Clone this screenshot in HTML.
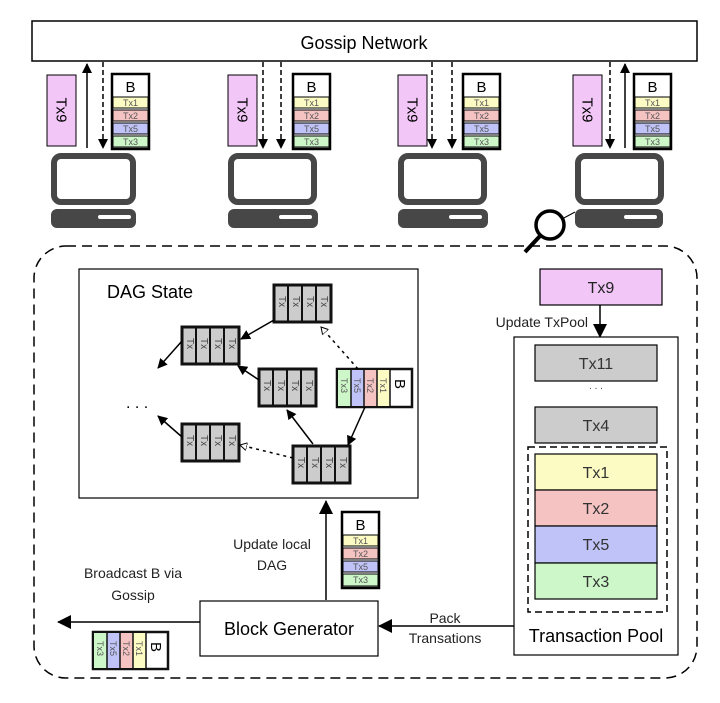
<!DOCTYPE html>
<html><head><meta charset="utf-8"><style>
html,body{margin:0;padding:0;background:#fff;}
svg{display:block;font-family:"Liberation Sans",sans-serif;}
</style></head><body>
<svg width="720" height="703" viewBox="0 0 720 703" xmlns="http://www.w3.org/2000/svg">
<defs>
<marker id="ah" markerWidth="10" markerHeight="10" refX="9" refY="5" orient="auto" markerUnits="userSpaceOnUse"><path d="M0,0 L10,5 L0,10 z" fill="#000"/></marker>
<marker id="ab" markerWidth="14" markerHeight="14" refX="13" refY="7" orient="auto" markerUnits="userSpaceOnUse"><path d="M0,0 L14,7 L0,14 z" fill="#000"/></marker>
<marker id="ao" markerWidth="8" markerHeight="8" refX="7" refY="4" orient="auto" markerUnits="userSpaceOnUse"><path d="M0,0 L7,4 L0,8 z" fill="#fff" stroke="#000" stroke-width="1"/></marker>
</defs>

<!-- Gossip network -->
<rect x="32" y="21" width="665" height="40" fill="#fff" stroke="#000" stroke-width="1.5"/>
<text x="364" y="49" font-size="18" text-anchor="middle">Gossip Network</text>

<!-- Node 1 (dx=0) -->
<g>
<rect x="47" y="75" width="29" height="71" fill="#f2c6f7" stroke="#000" stroke-width="1"/>
<text transform="translate(61.5,110) rotate(90)" font-size="15" text-anchor="middle" dy="5">Tx9</text>
<rect x="112" y="74" width="37" height="75" fill="#fff" stroke="#000" stroke-width="2.5"/>
<text x="130.5" y="92" font-size="15" text-anchor="middle">B</text>
<rect x="113" y="97" width="35" height="11" fill="#fdfbc4" stroke="#000" stroke-width="1"/><text x="130.5" y="106" font-size="9" text-anchor="middle" fill="#555">Tx1</text>
<rect x="113" y="110" width="35" height="11" fill="#f6c3c3" stroke="#000" stroke-width="1"/><text x="130.5" y="119" font-size="9" text-anchor="middle" fill="#555">Tx2</text>
<rect x="113" y="123" width="35" height="11" fill="#c0c3f7" stroke="#000" stroke-width="1"/><text x="130.5" y="132" font-size="9" text-anchor="middle" fill="#555">Tx5</text>
<rect x="113" y="136" width="35" height="11" fill="#cdf7c8" stroke="#000" stroke-width="1"/><text x="130.5" y="145" font-size="9" text-anchor="middle" fill="#555">Tx3</text>
<rect x="54" y="156" width="79" height="46" rx="7" fill="#fff" stroke="#474747" stroke-width="6"/>
<rect x="51" y="209" width="85" height="19" rx="6" fill="#474747"/>
<rect x="98" y="215" width="33" height="4" rx="2" fill="#fff"/>
<line x1="87" y1="148" x2="87" y2="64" stroke="#000" stroke-width="1.5" marker-end="url(#ah)"/>
<line x1="103" y1="62" x2="103" y2="148" stroke="#000" stroke-width="1.5" stroke-dasharray="5,3" marker-end="url(#ah)"/>
</g>

<!-- Node 2 -->
<g transform="translate(181,0)">
<rect x="47" y="75" width="29" height="71" fill="#f2c6f7" stroke="#000" stroke-width="1"/>
<text transform="translate(61.5,110) rotate(90)" font-size="15" text-anchor="middle" dy="5">Tx9</text>
<rect x="112" y="74" width="37" height="75" fill="#fff" stroke="#000" stroke-width="2.5"/>
<text x="130.5" y="92" font-size="15" text-anchor="middle">B</text>
<rect x="113" y="97" width="35" height="11" fill="#fdfbc4" stroke="#000" stroke-width="1"/><text x="130.5" y="106" font-size="9" text-anchor="middle" fill="#555">Tx1</text>
<rect x="113" y="110" width="35" height="11" fill="#f6c3c3" stroke="#000" stroke-width="1"/><text x="130.5" y="119" font-size="9" text-anchor="middle" fill="#555">Tx2</text>
<rect x="113" y="123" width="35" height="11" fill="#c0c3f7" stroke="#000" stroke-width="1"/><text x="130.5" y="132" font-size="9" text-anchor="middle" fill="#555">Tx5</text>
<rect x="113" y="136" width="35" height="11" fill="#cdf7c8" stroke="#000" stroke-width="1"/><text x="130.5" y="145" font-size="9" text-anchor="middle" fill="#555">Tx3</text>
<rect x="50" y="156" width="83" height="46" rx="7" fill="#fff" stroke="#474747" stroke-width="6"/>
<rect x="47" y="209" width="90" height="19" rx="6" fill="#474747"/>
<rect x="98" y="215" width="33" height="4" rx="2" fill="#fff"/>
<line x1="82" y1="62" x2="82" y2="148" stroke="#000" stroke-width="1.5" stroke-dasharray="5,3" marker-end="url(#ah)"/>
<line x1="100" y1="62" x2="100" y2="148" stroke="#000" stroke-width="1.5" stroke-dasharray="5,3" marker-end="url(#ah)"/>
</g>

<!-- Node 3 -->
<g transform="translate(351,0)">
<rect x="47" y="75" width="29" height="71" fill="#f2c6f7" stroke="#000" stroke-width="1"/>
<text transform="translate(61.5,110) rotate(90)" font-size="15" text-anchor="middle" dy="5">Tx9</text>
<rect x="112" y="74" width="37" height="75" fill="#fff" stroke="#000" stroke-width="2.5"/>
<text x="130.5" y="92" font-size="15" text-anchor="middle">B</text>
<rect x="113" y="97" width="35" height="11" fill="#fdfbc4" stroke="#000" stroke-width="1"/><text x="130.5" y="106" font-size="9" text-anchor="middle" fill="#555">Tx1</text>
<rect x="113" y="110" width="35" height="11" fill="#f6c3c3" stroke="#000" stroke-width="1"/><text x="130.5" y="119" font-size="9" text-anchor="middle" fill="#555">Tx2</text>
<rect x="113" y="123" width="35" height="11" fill="#c0c3f7" stroke="#000" stroke-width="1"/><text x="130.5" y="132" font-size="9" text-anchor="middle" fill="#555">Tx5</text>
<rect x="113" y="136" width="35" height="11" fill="#cdf7c8" stroke="#000" stroke-width="1"/><text x="130.5" y="145" font-size="9" text-anchor="middle" fill="#555">Tx3</text>
<rect x="50" y="156" width="83" height="46" rx="7" fill="#fff" stroke="#474747" stroke-width="6"/>
<rect x="47" y="209" width="90" height="19" rx="6" fill="#474747"/>
<rect x="98" y="215" width="33" height="4" rx="2" fill="#fff"/>
<line x1="81" y1="62" x2="81" y2="148" stroke="#000" stroke-width="1.5" stroke-dasharray="5,3" marker-end="url(#ah)"/>
<line x1="101" y1="62" x2="101" y2="148" stroke="#000" stroke-width="1.5" stroke-dasharray="5,3" marker-end="url(#ah)"/>
</g>

<!-- Node 4 -->
<g transform="translate(524,0)">
<rect x="49" y="75" width="29" height="71" fill="#f2c6f7" stroke="#000" stroke-width="1"/>
<text transform="translate(63.5,110) rotate(90)" font-size="15" text-anchor="middle" dy="5">Tx9</text>
<rect x="110" y="74" width="37" height="75" fill="#fff" stroke="#000" stroke-width="2.5"/>
<text x="128.5" y="92" font-size="15" text-anchor="middle">B</text>
<rect x="111" y="97" width="35" height="11" fill="#fdfbc4" stroke="#000" stroke-width="1"/><text x="128.5" y="106" font-size="9" text-anchor="middle" fill="#555">Tx1</text>
<rect x="111" y="110" width="35" height="11" fill="#f6c3c3" stroke="#000" stroke-width="1"/><text x="128.5" y="119" font-size="9" text-anchor="middle" fill="#555">Tx2</text>
<rect x="111" y="123" width="35" height="11" fill="#c0c3f7" stroke="#000" stroke-width="1"/><text x="128.5" y="132" font-size="9" text-anchor="middle" fill="#555">Tx5</text>
<rect x="111" y="136" width="35" height="11" fill="#cdf7c8" stroke="#000" stroke-width="1"/><text x="128.5" y="145" font-size="9" text-anchor="middle" fill="#555">Tx3</text>
<rect x="54" y="156" width="83" height="46" rx="7" fill="#fff" stroke="#474747" stroke-width="6"/>
<rect x="51" y="209" width="88" height="19" rx="6" fill="#474747"/>
<rect x="100" y="215" width="33" height="4" rx="2" fill="#fff"/>
<line x1="86" y1="62" x2="86" y2="148" stroke="#000" stroke-width="1.5" stroke-dasharray="5,3" marker-end="url(#ah)"/>
<line x1="101" y1="148" x2="101" y2="64" stroke="#000" stroke-width="1.5" marker-end="url(#ah)"/>
</g>

<!-- Magnifier -->
<line x1="562" y1="219" x2="575" y2="212" stroke="#000" stroke-width="1"/>
<circle cx="550" cy="225" r="14" fill="none" stroke="#000" stroke-width="3.5"/>
<line x1="540" y1="236" x2="525" y2="252" stroke="#000" stroke-width="4"/>

<!-- Dashed outer region -->
<rect x="34" y="246" width="663" height="432" rx="32" fill="none" stroke="#000" stroke-width="1.5" stroke-dasharray="10,6"/>

<!-- DAG State -->
<rect x="79" y="269" width="339" height="229" fill="#fff" stroke="#000" stroke-width="1.2"/>
<text x="107" y="298" font-size="18">DAG State</text>

<g font-size="10" fill="#444">
<!-- Block A -->
<g transform="translate(274,285)"><rect x="0" y="0" width="57" height="37" fill="#ccc" stroke="#111" stroke-width="3"/><line x1="14" y1="0" x2="14" y2="37" stroke="#111" stroke-width="2"/><line x1="28" y1="0" x2="28" y2="37" stroke="#111" stroke-width="2"/><line x1="42" y1="0" x2="42" y2="37" stroke="#111" stroke-width="2"/><text transform="translate(5,11) rotate(90)">Tx</text><text transform="translate(19,11) rotate(90)">Tx</text><text transform="translate(33,11) rotate(90)">Tx</text><text transform="translate(47,11) rotate(90)">Tx</text></g>
<!-- Block B -->
<g transform="translate(182,327)"><rect x="0" y="0" width="57" height="37" fill="#ccc" stroke="#111" stroke-width="3"/><line x1="14" y1="0" x2="14" y2="37" stroke="#111" stroke-width="2"/><line x1="28" y1="0" x2="28" y2="37" stroke="#111" stroke-width="2"/><line x1="42" y1="0" x2="42" y2="37" stroke="#111" stroke-width="2"/><text transform="translate(5,11) rotate(90)">Tx</text><text transform="translate(19,11) rotate(90)">Tx</text><text transform="translate(33,11) rotate(90)">Tx</text><text transform="translate(47,11) rotate(90)">Tx</text></g>
<!-- Block C -->
<g transform="translate(259,369)"><rect x="0" y="0" width="57" height="37" fill="#ccc" stroke="#111" stroke-width="3"/><line x1="14" y1="0" x2="14" y2="37" stroke="#111" stroke-width="2"/><line x1="28" y1="0" x2="28" y2="37" stroke="#111" stroke-width="2"/><line x1="42" y1="0" x2="42" y2="37" stroke="#111" stroke-width="2"/><text transform="translate(5,11) rotate(90)">Tx</text><text transform="translate(19,11) rotate(90)">Tx</text><text transform="translate(33,11) rotate(90)">Tx</text><text transform="translate(47,11) rotate(90)">Tx</text></g>
<!-- Block D -->
<g transform="translate(182,424)"><rect x="0" y="0" width="57" height="37" fill="#ccc" stroke="#111" stroke-width="3"/><line x1="14" y1="0" x2="14" y2="37" stroke="#111" stroke-width="2"/><line x1="28" y1="0" x2="28" y2="37" stroke="#111" stroke-width="2"/><line x1="42" y1="0" x2="42" y2="37" stroke="#111" stroke-width="2"/><text transform="translate(5,11) rotate(90)">Tx</text><text transform="translate(19,11) rotate(90)">Tx</text><text transform="translate(33,11) rotate(90)">Tx</text><text transform="translate(47,11) rotate(90)">Tx</text></g>
<!-- Block E -->
<g transform="translate(293,446)"><rect x="0" y="0" width="57" height="37" fill="#ccc" stroke="#111" stroke-width="3"/><line x1="14" y1="0" x2="14" y2="37" stroke="#111" stroke-width="2"/><line x1="28" y1="0" x2="28" y2="37" stroke="#111" stroke-width="2"/><line x1="42" y1="0" x2="42" y2="37" stroke="#111" stroke-width="2"/><text transform="translate(5,11) rotate(90)">Tx</text><text transform="translate(19,11) rotate(90)">Tx</text><text transform="translate(33,11) rotate(90)">Tx</text><text transform="translate(47,11) rotate(90)">Tx</text></g>
</g>

<!-- New block F (horizontal) -->
<g transform="translate(337,369)">
<rect x="0" y="0" width="75" height="38" fill="#fff" stroke="#111" stroke-width="2.5"/>
<rect x="1" y="1" width="13" height="36" fill="#cdf7c8"/>
<rect x="14" y="1" width="13" height="36" fill="#c0c3f7"/>
<rect x="27" y="1" width="13" height="36" fill="#f6c3c3"/>
<rect x="40" y="1" width="13" height="36" fill="#fdfbc4"/>
<line x1="14" y1="0" x2="14" y2="38" stroke="#111" stroke-width="1.5"/>
<line x1="27" y1="0" x2="27" y2="38" stroke="#111" stroke-width="1.5"/>
<line x1="40" y1="0" x2="40" y2="38" stroke="#111" stroke-width="1.5"/>
<line x1="53" y1="0" x2="53" y2="38" stroke="#111" stroke-width="1.5"/>
<g font-size="9" fill="#555"><text transform="translate(4,9) rotate(90)">Tx3</text><text transform="translate(17,9) rotate(90)">Tx5</text><text transform="translate(30,9) rotate(90)">Tx2</text><text transform="translate(43,9) rotate(90)">Tx1</text></g>
<text transform="translate(58,10) rotate(90)" font-size="15">B</text>
</g>

<!-- DAG arrows -->
<g stroke="#000" stroke-width="1.5" fill="none">
<line x1="274" y1="320" x2="241" y2="339" marker-end="url(#ah)"/>
<line x1="182" y1="341" x2="158" y2="368" marker-end="url(#ah)"/>
<line x1="182" y1="437" x2="158" y2="416" marker-end="url(#ah)"/>
<line x1="259" y1="380" x2="238" y2="366" marker-end="url(#ah)"/>
<line x1="313" y1="444" x2="287" y2="410" marker-end="url(#ah)"/>
<line x1="365" y1="407" x2="348" y2="445" marker-end="url(#ah)"/>
<line x1="358" y1="369" x2="321" y2="327" stroke-dasharray="3,4" marker-end="url(#ao)"/>
<line x1="293" y1="458" x2="240" y2="445" stroke-dasharray="3,4" marker-end="url(#ao)"/>
</g>
<text x="126" y="408" font-size="16">. . .</text>

<!-- Block generator -->
<rect x="200" y="601" width="178" height="55" fill="#fff" stroke="#000" stroke-width="1.2"/>
<text x="289" y="635" font-size="18" text-anchor="middle">Block Generator</text>
<line x1="326" y1="600" x2="326" y2="501" stroke="#000" stroke-width="1.5" marker-end="url(#ab)"/>
<text x="272" y="549" font-size="14" text-anchor="middle" fill="#222">Update local</text>
<text x="272" y="570" font-size="14" text-anchor="middle" fill="#222">DAG</text>
<line x1="200" y1="622" x2="58" y2="622" stroke="#000" stroke-width="1.5" marker-end="url(#ab)"/>
<text x="133" y="578" font-size="14" text-anchor="middle" fill="#222">Broadcast B via</text>
<text x="133" y="600" font-size="14" text-anchor="middle" fill="#222">Gossip</text>
<line x1="514" y1="626" x2="379" y2="626" stroke="#000" stroke-width="1.5" marker-end="url(#ab)"/>
<text x="445" y="623" font-size="14" text-anchor="middle" fill="#222">Pack</text>
<text x="445" y="643" font-size="14" text-anchor="middle" fill="#222">Transations</text>

<!-- vertical stack near DAG arrow -->
<rect x="342" y="512" width="37" height="76" fill="#fff" stroke="#000" stroke-width="2.5"/>
<text x="360.5" y="530" font-size="15" text-anchor="middle">B</text>
<rect x="343" y="535" width="35" height="11" fill="#fdfbc4" stroke="#000" stroke-width="1"/><text x="360.5" y="544" font-size="9" text-anchor="middle" fill="#555">Tx1</text>
<rect x="343" y="548" width="35" height="11" fill="#f6c3c3" stroke="#000" stroke-width="1"/><text x="360.5" y="557" font-size="9" text-anchor="middle" fill="#555">Tx2</text>
<rect x="343" y="561" width="35" height="11" fill="#c0c3f7" stroke="#000" stroke-width="1"/><text x="360.5" y="570" font-size="9" text-anchor="middle" fill="#555">Tx5</text>
<rect x="343" y="574" width="35" height="12" fill="#cdf7c8" stroke="#000" stroke-width="1"/><text x="360.5" y="583" font-size="9" text-anchor="middle" fill="#555">Tx3</text>

<!-- horizontal stack near broadcast -->
<g transform="translate(93,632)">
<rect x="0" y="0" width="75" height="37" fill="#fff" stroke="#111" stroke-width="2.5"/>
<rect x="1" y="1" width="13" height="35" fill="#cdf7c8"/>
<rect x="14" y="1" width="13" height="35" fill="#c0c3f7"/>
<rect x="27" y="1" width="13" height="35" fill="#f6c3c3"/>
<rect x="40" y="1" width="13" height="35" fill="#fdfbc4"/>
<line x1="14" y1="0" x2="14" y2="37" stroke="#111" stroke-width="1.5"/>
<line x1="27" y1="0" x2="27" y2="37" stroke="#111" stroke-width="1.5"/>
<line x1="40" y1="0" x2="40" y2="37" stroke="#111" stroke-width="1.5"/>
<line x1="53" y1="0" x2="53" y2="37" stroke="#111" stroke-width="1.5"/>
<g font-size="9" fill="#555"><text transform="translate(4,9) rotate(90)">Tx3</text><text transform="translate(17,9) rotate(90)">Tx5</text><text transform="translate(30,9) rotate(90)">Tx2</text><text transform="translate(43,9) rotate(90)">Tx1</text></g>
<text transform="translate(58,10) rotate(90)" font-size="15">B</text>
</g>

<!-- Transaction pool -->
<rect x="540" y="269" width="122" height="36" fill="#f2c6f7" stroke="#000" stroke-width="1.2"/>
<text x="601" y="293" font-size="16" text-anchor="middle" fill="#222">Tx9</text>
<line x1="600" y1="305" x2="600" y2="337" stroke="#000" stroke-width="1.5" marker-end="url(#ab)"/>
<text x="588" y="327" font-size="14" text-anchor="end" fill="#222">Update TxPool</text>

<rect x="514" y="337" width="164" height="318" fill="#fff" stroke="#000" stroke-width="1.2"/>
<rect x="535" y="345" width="122" height="36" fill="#ccc" stroke="#000" stroke-width="1.2"/>
<text x="596" y="369" font-size="16" text-anchor="middle" fill="#333">Tx11</text>
<text x="596" y="389" font-size="10" text-anchor="middle" fill="#444">. . .</text>
<rect x="535" y="407" width="122" height="36" fill="#ccc" stroke="#000" stroke-width="1.2"/>
<text x="596" y="431" font-size="16" text-anchor="middle" fill="#333">Tx4</text>
<rect x="528" y="447" width="139" height="165" fill="none" stroke="#000" stroke-width="1.5" stroke-dasharray="7,4"/>
<rect x="535" y="454" width="122" height="36" fill="#fdfbc4" stroke="#000" stroke-width="1.2"/>
<text x="596" y="478" font-size="16" text-anchor="middle" fill="#333">Tx1</text>
<rect x="535" y="490" width="122" height="36" fill="#f6c3c3" stroke="#000" stroke-width="1.2"/>
<text x="596" y="514" font-size="16" text-anchor="middle" fill="#333">Tx2</text>
<rect x="535" y="526" width="122" height="37" fill="#c0c3f7" stroke="#000" stroke-width="1.2"/>
<text x="596" y="550" font-size="16" text-anchor="middle" fill="#333">Tx5</text>
<rect x="535" y="563" width="122" height="36" fill="#cdf7c8" stroke="#000" stroke-width="1.2"/>
<text x="596" y="587" font-size="16" text-anchor="middle" fill="#333">Tx3</text>
<text x="596" y="642" font-size="18" text-anchor="middle">Transaction Pool</text>
</svg>
</body></html>
